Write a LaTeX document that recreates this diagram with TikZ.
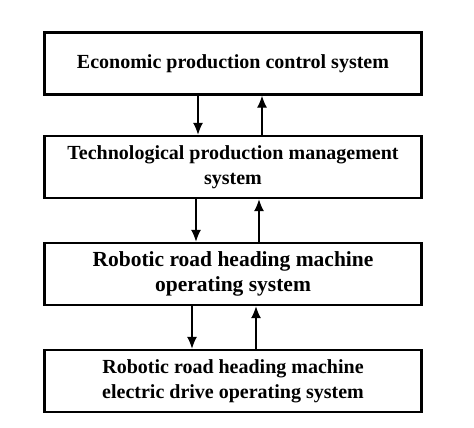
\documentclass[tikz,border=0pt]{standalone}
\usepackage{fontspec}
\setmainfont{Liberation Serif}
\usetikzlibrary{arrows.meta}
\tikzset{
  sysbox/.style={draw, line width=2.4pt, minimum width=377pt, minimum height=62pt,
    align=center, font=\bfseries\fontsize{20}{25}\selectfont, inner sep=0pt},
  link/.style={line width=1.3pt, -{Latex[length=12pt,width=10pt]}}
}
\begin{document}
\begin{tikzpicture}[x=1pt,y=-1pt]
\useasboundingbox (0,0) rectangle (474,428);
\node[sysbox] (eco) at (233,63.5) {Economic production control system};
\node[sysbox] (tech) at (233,167) {Technological production management\\system};
\node[sysbox, font=\bfseries\fontsize{21.5}{25}\selectfont] (robot) at (233,274) {Robotic road heading machine\\operating system};
\node[sysbox] (drive) at (233,381) {Robotic road heading machine\\electric drive operating system};
% down and up links
\draw[link] ([xshift=-35pt]eco.south) -- ([xshift=-35pt]tech.north);
\draw[link] ([xshift=29pt]tech.north) -- ([xshift=29pt]eco.south);
\draw[link] ([xshift=-37pt]tech.south) -- ([xshift=-37pt]robot.north);
\draw[link] ([xshift=26pt]robot.north) -- ([xshift=26pt]tech.south);
\draw[link] ([xshift=-41pt]robot.south) -- ([xshift=-41pt]drive.north);
\draw[link] ([xshift=23pt]drive.north) -- ([xshift=23pt]robot.south);
\end{tikzpicture}
\end{document}
